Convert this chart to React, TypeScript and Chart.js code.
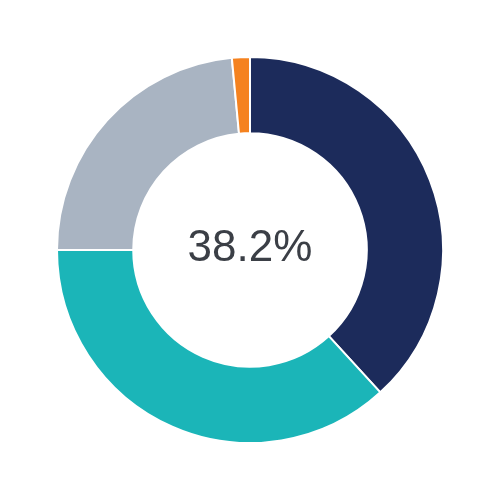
import React, { useEffect, useRef } from "react";
import { Chart, registerables } from "chart.js";

Chart.register(...registerables);

const categories = ["Navy", "Teal", "Gray", "Orange"];
const values = [38.2, 36.8, 23.5, 1.5];
const colors = ["#1c2b5b", "#1bb5b8", "#a9b4c2", "#f5821f"];
const centerLabel = "38.2%";

export default function App() {
  const ref = useRef<HTMLCanvasElement | null>(null);
  useEffect(() => {
    if (!ref.current) return;
    const chart = new Chart(ref.current, {
      type: "doughnut",
      data: {
        labels: categories,
        datasets: [
          {
            data: values,
            backgroundColor: colors,
            borderColor: "#ffffff",
            borderWidth: 2,
          },
        ],
      },
      options: {
        animation: false,
        responsive: false,
        cutout: "60.5%",
        layout: { padding: 56 },
        plugins: { legend: { display: false }, tooltip: { enabled: false } },
      },
    });
    return () => chart.destroy();
  }, []);
  return (
    <div style={{ position: "fixed", left: 0, top: 0, width: 500, height: 500, background: "#fff" }}>
      <canvas ref={ref} width={500} height={500} style={{ width: 500, height: 500 }} />
      <div
        style={{
          position: "absolute",
          left: 0,
          top: 0,
          width: 500,
          height: 500,
          display: "flex",
          alignItems: "center",
          justifyContent: "center",
          fontFamily: "'Liberation Sans', Arial, sans-serif",
          fontSize: 44,
          color: "#3b3f46",
          pointerEvents: "none",
        }}
      >
        <span style={{ position: "relative", top: -4 }}>{centerLabel}</span>
      </div>
    </div>
  );
}
